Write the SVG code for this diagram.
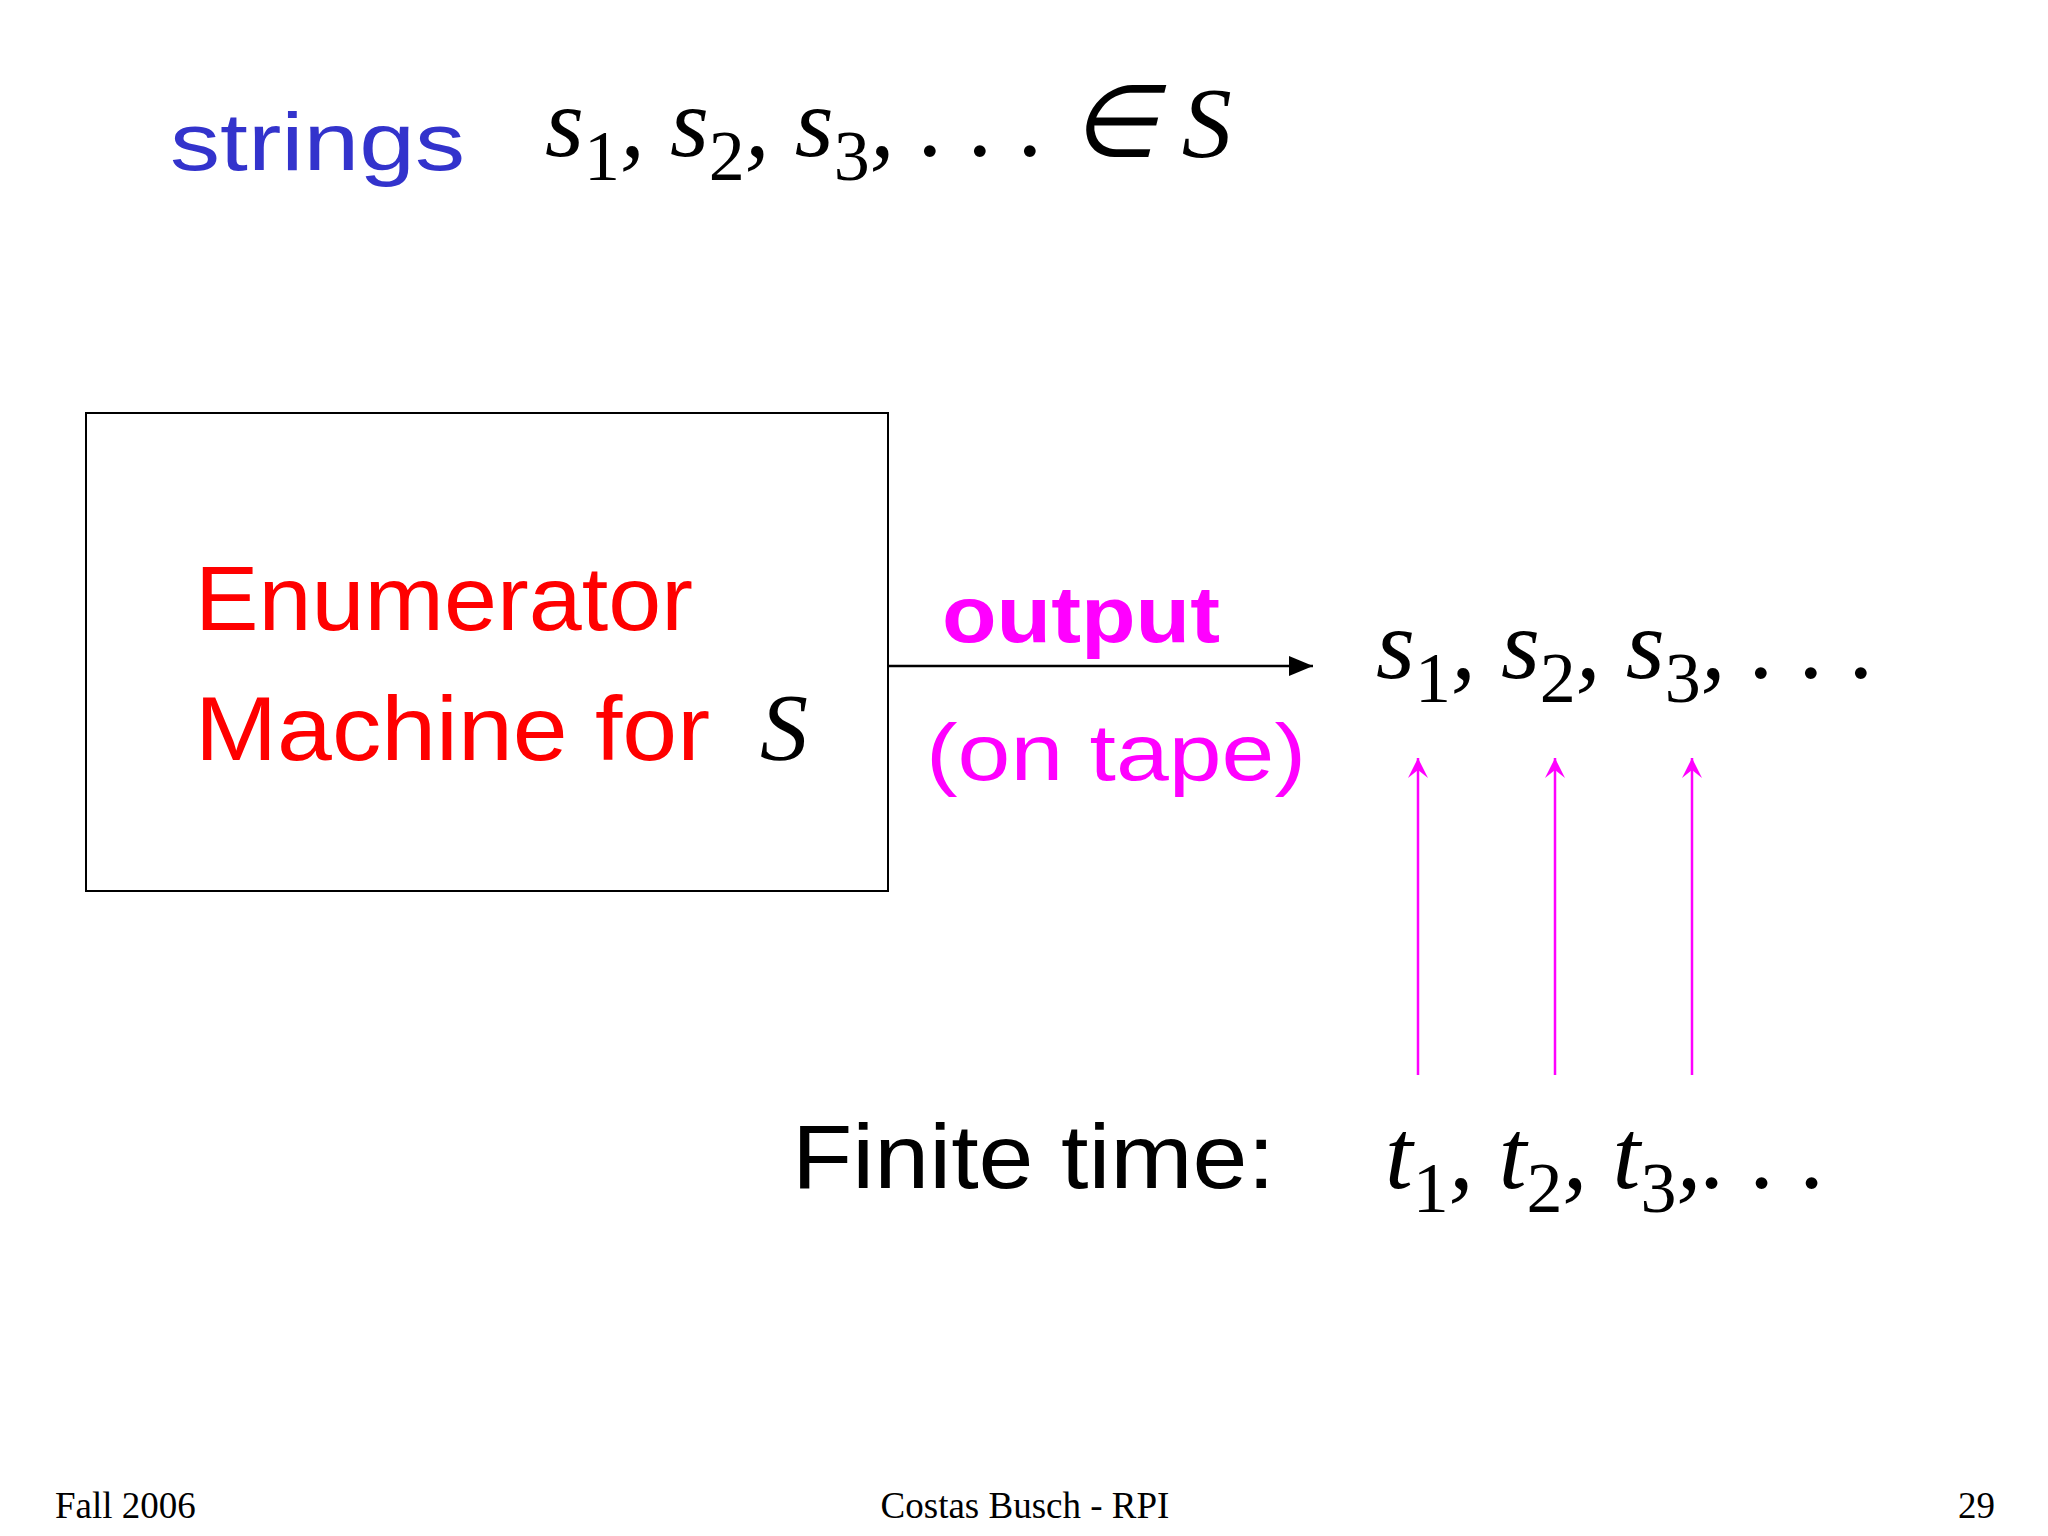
<svg xmlns="http://www.w3.org/2000/svg" width="2048" height="1536" viewBox="0 0 2048 1536">
<style>
.m{font-family:"Liberation Serif",serif;font-style:italic;fill:#000}
.sub{font-style:normal}
.c{font-family:"Liberation Sans",sans-serif}
.f{font-family:"Liberation Serif",serif;font-size:37px;fill:#000}
</style>
<defs>
<marker id="ab" markerWidth="24" markerHeight="20" refX="24" refY="10" orient="auto" markerUnits="userSpaceOnUse" viewBox="0 0 24 20"><path d="M0,0 L24,10 L0,20 z" fill="#000"/></marker>
<marker id="am" markerWidth="22" markerHeight="20" refX="20" refY="10" orient="auto" markerUnits="userSpaceOnUse" viewBox="0 0 22 20"><path d="M0,0 L20,10 L0,20 L8,10 z" fill="#f0f"/></marker>
</defs>
<rect width="2048" height="1536" fill="#fff"/>
<text x="170" y="170" class="c" font-size="82" fill="#3333cc" textLength="295" lengthAdjust="spacingAndGlyphs">strings</text>
<text x="545" y="156" class="m" font-size="100">s<tspan class="sub" font-size="72" dy="24">1</tspan><tspan dy="-24">, s</tspan><tspan class="sub" font-size="72" dy="24">2</tspan><tspan dy="-24">, s</tspan><tspan class="sub" font-size="72" dy="24">3</tspan><tspan dy="-24">, . . . ∈ S</tspan></text>
<g id="enumerator">
<rect x="86" y="413" width="802" height="478" fill="none" stroke="#000" stroke-width="2"/>
<text x="195" y="630" class="c" font-size="90" fill="#f00" textLength="498" lengthAdjust="spacingAndGlyphs">Enumerator</text>
<text x="195" y="760" class="c" font-size="90" fill="#f00" textLength="515" lengthAdjust="spacingAndGlyphs">Machine for</text>
<text x="760" y="760" class="m" font-size="96">S</text>
</g>
<g id="connectors">
<line x1="888" y1="666" x2="1313" y2="666" stroke="#000" stroke-width="2.5" marker-end="url(#ab)"/>
<line x1="1418" y1="1075" x2="1418" y2="758" stroke="#f0f" stroke-width="2.5" marker-end="url(#am)"/>
<line x1="1555" y1="1075" x2="1555" y2="758" stroke="#f0f" stroke-width="2.5" marker-end="url(#am)"/>
<line x1="1692" y1="1075" x2="1692" y2="758" stroke="#f0f" stroke-width="2.5" marker-end="url(#am)"/>
</g>
<text x="942" y="642" class="c" font-size="80" font-weight="bold" fill="#f0f" textLength="278" lengthAdjust="spacingAndGlyphs">output</text>
<text x="926" y="780" class="c" font-size="80" fill="#f0f" textLength="380" lengthAdjust="spacingAndGlyphs">(on tape)</text>
<g id="outputs">
<text x="1376" y="678" class="m" font-size="100">s<tspan class="sub" font-size="72" dy="24">1</tspan><tspan dy="-24">, s</tspan><tspan class="sub" font-size="72" dy="24">2</tspan><tspan dy="-24">, s</tspan><tspan class="sub" font-size="72" dy="24">3</tspan><tspan dy="-24">, . . .</tspan></text>
</g>
<text x="792" y="1188" class="c" font-size="90" fill="#000" textLength="483" lengthAdjust="spacingAndGlyphs">Finite time:</text>
<text x="1385" y="1188" class="m" font-size="100">t<tspan class="sub" font-size="72" dy="24">1</tspan><tspan dy="-24">, t</tspan><tspan class="sub" font-size="72" dy="24">2</tspan><tspan dy="-24">, t</tspan><tspan class="sub" font-size="72" dy="24">3</tspan><tspan dy="-24">,. . .</tspan></text>
<text x="55" y="1518" class="f">Fall 2006</text>
<text x="1025" y="1518" class="f" text-anchor="middle">Costas Busch - RPI</text>
<text x="1995" y="1518" class="f" text-anchor="end">29</text>
</svg>
